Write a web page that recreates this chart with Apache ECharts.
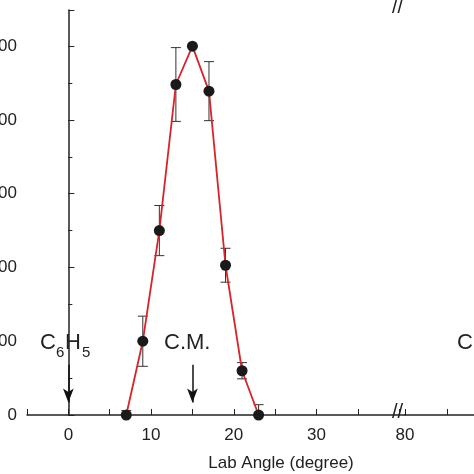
<!DOCTYPE html><html><head><meta charset="utf-8"><script src="https://cdn.jsdelivr.net/npm/echarts@6/dist/echarts.min.js"></script></head><body style="margin:0"><div id="c" style="width:474px;height:474px"></div><script>
const angles=[7,9,11,13,15,17,19,21,23];
const values=[0,500,1250,2240,2500,2195,1015,300,0];
const errLow=[0,170,170,250,0,200,115,55,0];
const errHigh=[30,170,170,250,0,200,115,55,70];
const yTicks=[0,500,1000,1500,2000,2500];
const xLabels=[0,10,20,30];
const xTicks=[-5,0,5,10,15,20,25,30,35,40];
const F='Liberation Sans, Arial, sans-serif';
const ch=echarts.init(document.getElementById('c'));
const pts=angles.map((a,i)=>[a,values[i]]);
const errs=angles.map((a,i)=>[a,values[i]-errLow[i],values[i]+errHigh[i]]);
const axBase={axisLine:{lineStyle:{color:'#222',width:1.5}},axisTick:{inside:true,length:6,lineStyle:{color:'#222'}},splitLine:{show:false},axisLabel:{color:'#222',fontSize:17,fontFamily:F}};
ch.setOption({animation:false,
grid:[{left:27,right:69,top:10,bottom:59,outerBoundsMode:'none',containLabel:false},{left:405,right:-2,top:10,bottom:59,outerBoundsMode:'none',containLabel:false}],
xAxis:[Object.assign({},axBase,{type:'value',gridIndex:0,min:-5,max:40.7,axisTick:Object.assign({},axBase.axisTick,{customValues:xTicks}),axisLabel:Object.assign({},axBase.axisLabel,{margin:12,customValues:xLabels}),name:'Lab Angle (degree)',nameLocation:'middle',nameGap:40,nameTextStyle:{fontSize:17,fontFamily:F,color:'#222',padding:[0,0,0,130]}}),
 Object.assign({},axBase,{type:'value',gridIndex:1,min:80,max:88.5,axisTick:Object.assign({},axBase.axisTick,{customValues:[80,85]}),axisLabel:Object.assign({},axBase.axisLabel,{margin:12,customValues:[80]})})],
yAxis:[Object.assign({},axBase,{type:'value',gridIndex:0,min:0,max:2745,interval:500,minorTick:{show:true,splitNumber:2,length:4,lineStyle:{color:'#222'}},axisLabel:Object.assign({},axBase.axisLabel,{margin:10,formatter:v=>yTicks.includes(v)?String(v):''})}),
 {type:'value',gridIndex:1,min:0,max:2745,show:false}],
series:[
{type:'line',xAxisIndex:0,yAxisIndex:0,data:pts,lineStyle:{color:'#d9232a',width:1.8},symbol:'circle',symbolSize:11,itemStyle:{color:'#1a1a1a'},z:3,
 markLine:{silent:true,symbol:['none','arrow'],symbolSize:[8,14],label:{show:false},lineStyle:{color:'#111',width:1.5,type:'solid'},data:[[{coord:[0,340]},{coord:[0,85]}],[{coord:[15,340]},{coord:[15,85]}]]}},
{type:'custom',xAxisIndex:0,yAxisIndex:0,data:errs,z:2,renderItem:(p,api)=>{const x=api.value(0);const a=api.coord([x,api.value(1)]),b=api.coord([x,api.value(2)]);const w=5;
 return {type:'group',children:[{type:'line',shape:{x1:a[0],y1:a[1],x2:b[0],y2:b[1]},style:{stroke:'#333',lineWidth:1}},{type:'line',shape:{x1:a[0]-w,y1:a[1],x2:a[0]+w,y2:a[1]},style:{stroke:'#333',lineWidth:1}},{type:'line',shape:{x1:b[0]-w,y1:b[1],x2:b[0]+w,y2:b[1]},style:{stroke:'#333',lineWidth:1}}]};}},
{type:'line',xAxisIndex:1,yAxisIndex:1,data:[]}],
graphic:[
{type:'text',left:40,top:332,style:{text:'C',fontSize:22,fontFamily:F,fill:'#222'}},
{type:'text',left:56,top:345,style:{text:'6',fontSize:15,fontFamily:F,fill:'#222'}},
{type:'text',left:65,top:332,style:{text:'H',fontSize:22,fontFamily:F,fill:'#222'}},
{type:'text',left:82,top:345,style:{text:'5',fontSize:15,fontFamily:F,fill:'#222'}},
{type:'text',left:164,top:332,style:{text:'C.M.',fontSize:22,fontFamily:F,fill:'#222'}},
{type:'text',left:457,top:332,style:{text:'C',fontSize:22,fontFamily:F,fill:'#222'}},
{type:'text',left:392,top:402,style:{text:'//',fontSize:20,fontFamily:F,fill:'#222',backgroundColor:'#fff'}},
{type:'text',left:392,top:-3,style:{text:'//',fontSize:20,fontFamily:F,fill:'#222',backgroundColor:'#fff'}}
]});
</script></body></html>
